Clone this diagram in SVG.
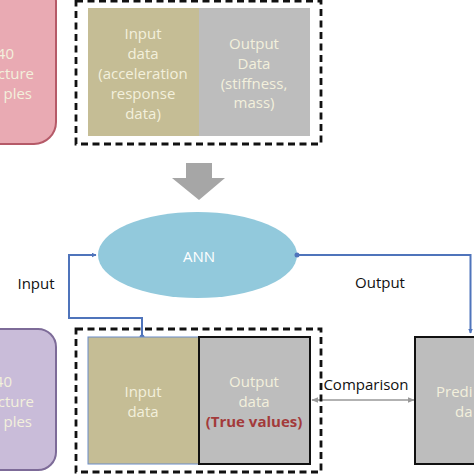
<svg xmlns="http://www.w3.org/2000/svg" width="474" height="474" viewBox="0 0 474 474">
<defs>
<style>
.lbl{font-family:"Open Sans","Noto Sans",sans-serif;font-size:15px;fill:#f3f0dc;text-anchor:middle}
.blk{font-family:"Open Sans","Noto Sans",sans-serif;font-size:15px;fill:#111;text-anchor:middle}
.dash{fill:none;stroke:#111;stroke-width:2.8;stroke-dasharray:7 4.5}
.conn{fill:none;stroke:#4f74bb;stroke-width:2}
</style>
<marker id="ah" viewBox="0 0 10 10" refX="9" refY="5" markerWidth="5" markerHeight="5" orient="auto-start-reverse" markerUnits="userSpaceOnUse">
<path d="M0,0 L10,5 L0,10 z" fill="#4f74bb"/>
</marker>
<marker id="gah" viewBox="0 0 10 10" refX="9" refY="5" markerWidth="7" markerHeight="7" orient="auto-start-reverse" markerUnits="userSpaceOnUse">
<path d="M0,1 L10,5 L0,9 z" fill="#999"/>
</marker>
</defs>
<rect width="474" height="474" fill="#fff"/>

<g id="samples-top">
<rect x="-30" y="-20" width="86" height="164" rx="22" fill="#e9aab3" stroke="#b55a68" stroke-width="2"/>
<text class="lbl" style="text-anchor:end" x="14" y="59">40</text>
<text class="lbl" style="text-anchor:end" x="34" y="79">cture</text>
<text class="lbl" style="text-anchor:end" x="32" y="99">ples</text>
</g>

<g id="training-set">
<rect class="dash" x="76" y="1" width="245" height="143"/>
<rect x="88" y="8" width="111" height="128" fill="#c5bd95"/>
<rect x="199" y="8" width="111" height="128" fill="#bdbdbd"/>
<text class="lbl" x="143" y="39">Input</text>
<text class="lbl" x="143" y="59">data</text>
<text class="lbl" x="143" y="79">(acceleration</text>
<text class="lbl" x="143" y="99">response</text>
<text class="lbl" x="143" y="119">data)</text>
<text class="lbl" x="254" y="49">Output</text>
<text class="lbl" x="254" y="69">Data</text>
<text class="lbl" x="254" y="89">(stiffness,</text>
<text class="lbl" x="254" y="108">mass)</text>
</g>

<g id="train-arrow">
<path d="M186,163 H212 V178 H225 L199,200 L172,178 H186 Z" fill="#a6a6a6"/>
</g>

<g id="ann">
<ellipse cx="197.5" cy="255" rx="99.5" ry="43" fill="#92c9dc"/>
<text class="lbl" style="fill:#fff" x="199" y="262">ANN</text>
</g>

<g id="connectors">
<path class="conn" d="M142,337 V318 H69 V255 H96" marker-end="url(#ah)"/>
<circle cx="142" cy="337" r="2.5" fill="#4f74bb"/>
<path class="conn" d="M297,255 H470.5 V333" marker-end="url(#ah)"/>
<circle cx="297" cy="255" r="2.5" fill="#4f74bb"/>
<line x1="312" y1="400" x2="414" y2="400" stroke="#999" stroke-width="1.5" marker-start="url(#gah)" marker-end="url(#gah)"/>
<text class="blk" x="36" y="289">Input</text>
<text class="blk" x="380" y="288">Output</text>
<text class="blk" x="366" y="390">Comparison</text>
</g>

<g id="samples-bottom">
<rect x="-30" y="329" width="86" height="141" rx="18" fill="#c9bcd9" stroke="#7d6b98" stroke-width="2"/>
<text class="lbl" style="text-anchor:end" x="12" y="387">40</text>
<text class="lbl" style="text-anchor:end" x="34" y="407">cture</text>
<text class="lbl" style="text-anchor:end" x="32" y="427">ples</text>
</g>

<g id="test-set">
<rect class="dash" x="76" y="329" width="245" height="143"/>
<rect x="88" y="337" width="111" height="127" fill="#c5bd95" stroke="#6a8cc8" stroke-width="1"/>
<rect x="199" y="337" width="111" height="127" fill="#bdbdbd" stroke="#111" stroke-width="2"/>
<text class="lbl" x="143" y="397">Input</text>
<text class="lbl" x="143" y="417">data</text>
<text class="lbl" x="254" y="387">Output</text>
<text class="lbl" x="254" y="407">data</text>
<text class="lbl" style="fill:#a33a3a;font-weight:bold" x="254" y="427">(True values)</text>
</g>

<g id="predicted">
<rect x="415" y="337" width="80" height="127" fill="#bdbdbd" stroke="#111" stroke-width="2"/>
<text class="lbl" style="text-anchor:start" x="436" y="397">Predi</text>
<text class="lbl" style="text-anchor:start" x="455" y="417">da</text>
</g>
</svg>
